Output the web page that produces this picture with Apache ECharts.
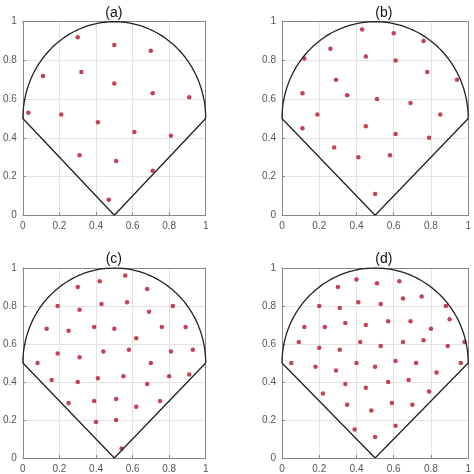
<!DOCTYPE html>
<html><head><meta charset="utf-8">
<script src="https://cdn.jsdelivr.net/npm/echarts@6/dist/echarts.min.js"></script>
<style>html,body{margin:0;padding:0;background:#fff}#c{width:474px;height:474px}</style>
</head><body><div id="c"></div>
<script>
const panelTitles = ['(a)', '(b)', '(c)', '(d)'];
const ticks = [0, 0.2, 0.4, 0.6, 0.8, 1];
const pointsA = [[0.03,0.53],[0.11,0.72],[0.21,0.52],[0.30,0.92],[0.32,0.74],[0.31,0.31],[0.41,0.48],[0.47,0.08],[0.50,0.88],[0.50,0.68],[0.51,0.28],[0.61,0.43],[0.70,0.85],[0.71,0.63],[0.71,0.23],[0.81,0.41],[0.91,0.61]];
const pointsB = [[0.12,0.81],[0.11,0.63],[0.11,0.45],[0.19,0.52],[0.26,0.86],[0.29,0.70],[0.28,0.35],[0.35,0.62],[0.41,0.30],[0.43,0.96],[0.45,0.82],[0.45,0.46],[0.50,0.11],[0.51,0.60],[0.58,0.31],[0.60,0.94],[0.61,0.80],[0.61,0.42],[0.69,0.58],[0.76,0.90],[0.78,0.74],[0.79,0.40],[0.85,0.52],[0.94,0.70]];
const pointsC = [[0.08,0.50],[0.13,0.68],[0.157,0.41],[0.19,0.80],[0.19,0.55],[0.25,0.67],[0.25,0.29],[0.30,0.90],[0.31,0.78],[0.31,0.53],[0.30,0.40],[0.39,0.69],[0.39,0.30],[0.40,0.19],[0.41,0.42],[0.42,0.93],[0.43,0.81],[0.44,0.56],[0.50,0.68],[0.51,0.31],[0.51,0.20],[0.54,0.05],[0.55,0.43],[0.56,0.96],[0.57,0.82],[0.58,0.57],[0.62,0.63],[0.62,0.27],[0.68,0.89],[0.68,0.39],[0.69,0.77],[0.70,0.50],[0.76,0.69],[0.75,0.30],[0.80,0.43],[0.81,0.56],[0.82,0.80],[0.89,0.69],[0.91,0.44],[0.93,0.57]];
const pointsD = [[0.05,0.50],[0.09,0.61],[0.12,0.69],[0.18,0.48],[0.20,0.80],[0.20,0.58],[0.22,0.34],[0.23,0.69],[0.29,0.46],[0.30,0.90],[0.31,0.79],[0.31,0.57],[0.34,0.71],[0.34,0.39],[0.35,0.28],[0.39,0.15],[0.40,0.94],[0.40,0.50],[0.41,0.82],[0.42,0.61],[0.45,0.70],[0.45,0.37],[0.48,0.25],[0.50,0.48],[0.50,0.11],[0.51,0.92],[0.53,0.81],[0.53,0.59],[0.57,0.72],[0.57,0.40],[0.59,0.29],[0.61,0.51],[0.61,0.17],[0.63,0.93],[0.65,0.84],[0.65,0.61],[0.68,0.41],[0.69,0.72],[0.70,0.28],[0.72,0.50],[0.75,0.85],[0.76,0.62],[0.79,0.35],[0.80,0.68],[0.83,0.45],[0.88,0.80],[0.89,0.59],[0.90,0.73],[0.96,0.50],[0.98,0.61]];
const allPoints = [pointsA, pointsB, pointsC, pointsD];
const boundary = [[1,0.5],[0.5,0],[0,0.5]];
for (let i = 0; i <= 90; i++) { const a = Math.PI - Math.PI * i / 90; boundary.push([0.5 + 0.5*Math.cos(a), 0.5 + 0.5*Math.sin(a)]); }

const W = 193.7, H = 193.5;
const lefts = [12, 282, 12, 282], tops = [21.7, 21.7, 268, 268];
const fmt = v => (v === 0 || v === 1) ? String(v) : v.toFixed(1);
const grid = [], xAxis = [], yAxis = [], series = [], title = [];
for (let k = 0; k < 4; k++) {
  grid.push({left: lefts[k], top: tops[k], width: W, height: H});
  title.push({text: panelTitles[k], left: lefts[k] + W/2, top: tops[k] - 21, textAlign: 'center',
    textStyle: {fontFamily: 'Liberation Sans, Arial', fontSize: 14, fontWeight: 'normal', color: '#111'}});
  const base = {min: 0, max: 1, interval: 0.2, type: 'value', gridIndex: k};
  xAxis.push(Object.assign({}, base, {position: 'bottom',
    axisLine: {show: true, lineStyle: {color: '#888', width: 1}},
    axisTick: {show: true, inside: true, length: 3, lineStyle: {color: '#888'}},
    axisLabel: {formatter: fmt, color: '#555', fontSize: 10, fontFamily: 'Liberation Sans, Arial', margin: 6},
    splitLine: {show: true, lineStyle: {color: '#e3e3e3', width: 1}}}));
  xAxis.push(Object.assign({}, base, {position: 'top',
    axisLine: {show: true, onZero: false, lineStyle: {color: '#888'}}, axisTick: {show: false}, axisLabel: {show: false}, splitLine: {show: false}}));
  yAxis.push(Object.assign({}, base, {position: 'left',
    axisLine: {show: true, lineStyle: {color: '#888', width: 1}},
    axisTick: {show: true, inside: true, length: 3, lineStyle: {color: '#888'}},
    axisLabel: {formatter: fmt, color: '#555', fontSize: 10, fontFamily: 'Liberation Sans, Arial', margin: 6},
    splitLine: {show: true, lineStyle: {color: '#e3e3e3', width: 1}}}));
  yAxis.push(Object.assign({}, base, {position: 'right',
    axisLine: {show: true, onZero: false, lineStyle: {color: '#888'}}, axisTick: {show: false}, axisLabel: {show: false}, splitLine: {show: false}}));
  series.push({type: 'line', xAxisIndex: 2*k, yAxisIndex: 2*k, data: boundary, showSymbol: false, symbol: 'none',
    lineStyle: {color: '#222', width: 1.3}, silent: true, animation: false});
  series.push({type: 'scatter', xAxisIndex: 2*k, yAxisIndex: 2*k, data: allPoints[k], symbolSize: 4.5,
    itemStyle: {color: '#b8122a'}, animation: false});
}
const chart = echarts.init(document.getElementById('c'));
chart.setOption({animation: false, title, grid, xAxis, yAxis, series});
</script></body></html>
